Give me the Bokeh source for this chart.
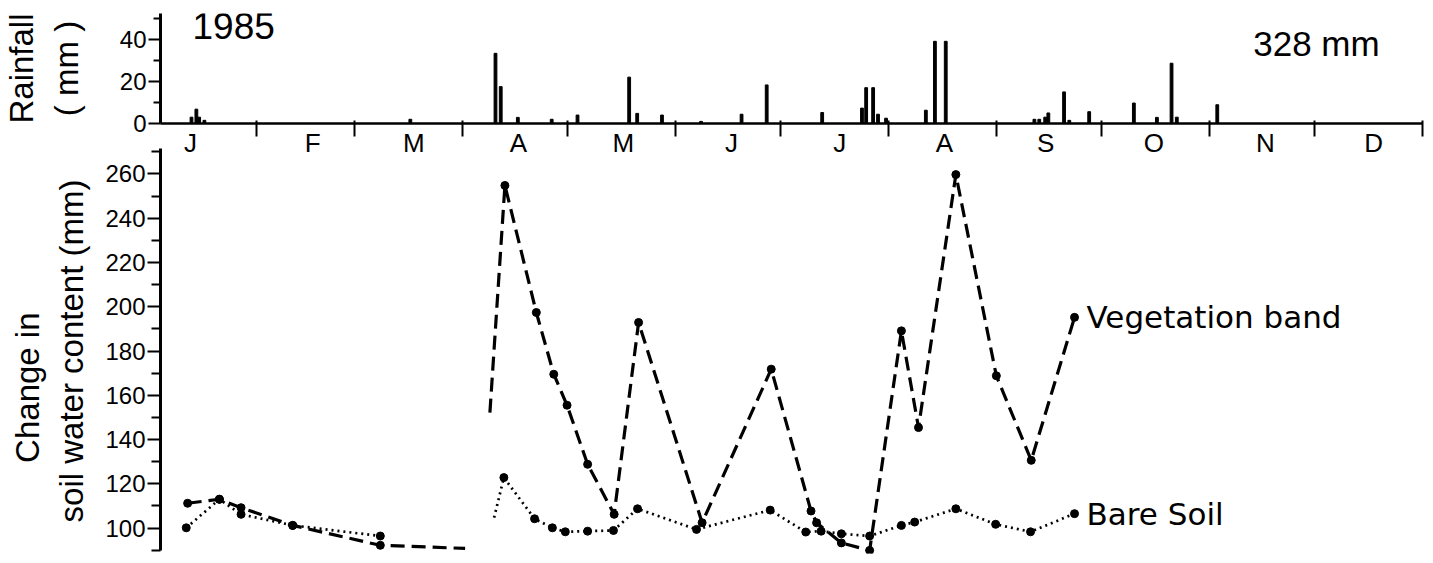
import numpy as np
from bokeh.plotting import figure
from bokeh.layouts import column
from bokeh.models import Range1d, FixedTicker, Label
from bokeh.core.properties import value
from bokeh.embed import file_html
from bokeh.resources import INLINE

# ---- data (x in day of year 1985) ----
month_names = ["J", "F", "M", "A", "M", "J", "J", "A", "S", "O", "N", "D"]
month_starts = [0, 31, 59, 90, 120, 151, 181, 212, 243, 273, 304, 334, 365]
month_label_days = [12, 47, 76, 106, 136, 167, 198, 228, 257, 288, 320, 351]

rain_days = [12.3, 13.7, 14.5, 16.0, 75.0, 99.4, 100.9, 105.8, 115.5, 122.9,
             137.7, 140.0, 147.1, 158.3, 169.9, 177.1, 193.0, 204.4, 205.6,
             207.6, 209.0, 211.3, 222.7, 225.3, 228.4, 253.8, 255.2, 256.9,
             257.8, 262.3, 263.8, 269.5, 282.3, 288.9, 293.1, 294.6, 306.2]
rain_mm = [3.0, 6.8, 3.0, 1.5, 2.0, 33.3, 17.5, 2.9, 2.0, 4.0,
           22.0, 4.8, 4.0, 1.0, 4.4, 18.3, 5.2, 7.3, 17.0,
           17.0, 4.4, 2.5, 6.3, 39.0, 39.0, 2.0, 2.0, 3.0,
           5.0, 15.0, 1.5, 5.6, 9.7, 2.9, 28.6, 3.0, 8.9]

veg_days = [11.2, 20.3, 26.5, 41.3, 66.4, 90.7, np.nan,
            97.8, 102.1, 111.1, 116.1, 119.9, 125.8, 133.4, 140.4, 158.6,
            178.4, 189.8, 191.4, 198.5, 206.6, 215.7, 220.6, 231.3, 242.9,
            252.9, 265.3]
veg_vals = [111.2, 113.0, 109.2, 101.2, 92.2, 90.8, np.nan,
            152.2, 254.8, 197.4, 169.5, 155.5, 128.8, 106.2, 192.9, 102.4,
            171.8, 107.7, 102.4, 93.3, 89.9, 189.1, 145.4, 259.7, 168.8,
            130.6, 195.2]
veg_marked = [1, 1, 1, 1, 1, 0, 0,
              0, 1, 1, 1, 1, 1, 1, 1, 1,
              1, 1, 1, 1, 1, 1, 1, 1, 1,
              1, 1]

bare_days = [10.8, 20.3, 26.5, 41.3, 66.4, np.nan,
             99.0, 101.8, 110.6, 115.7, 119.4, 125.8, 133.2, 140.1, 157.0,
             178.1, 188.3, 192.7, 198.5, 206.6, 215.7, 219.5, 231.3, 242.7,
             252.7, 265.3]
bare_vals = [100.1, 113.0, 106.2, 101.2, 96.4, np.nan,
             104.7, 122.8, 104.2, 100.1, 98.3, 98.6, 98.9, 108.7, 99.4,
             108.1, 98.2, 98.6, 97.4, 96.4, 101.2, 102.7, 108.7, 101.7,
             98.3, 106.5]
bare_marked = [1, 1, 1, 1, 1, 0,
               0, 1, 1, 1, 1, 1, 1, 1, 1,
               1, 1, 1, 1, 1, 1, 1, 1, 1,
               1, 1]

rain_ticks = [0, 20, 40]
rain_minor = [10, 30, 50]
soil_ticks = [100, 120, 140, 160, 180, 200, 220, 240, 260]
soil_minor = [90, 110, 130, 150, 170, 190, 210, 230, 250, 270]

FONT = "Liberation Sans"
W = 1430

x_range = Range1d(3.42, 365)

# ---- rainfall panel ----
top = figure(width=W, height=173, x_range=x_range, y_range=Range1d(0, 52.2),
             output_backend="svg", toolbar_location=None,
             min_border_left=154, min_border_right=8, min_border_top=13,
             min_border_bottom=50)
top.grid.visible = False
top.outline_line_color = None
top.vbar(x=rain_days, top=rain_mm, width=0.8, bottom=0, color="black")

xa = top.xaxis[0]
xa.ticker = FixedTicker(ticks=month_label_days, minor_ticks=month_starts)
xa.major_label_overrides = {d: n for d, n in zip(month_label_days, month_names)}
xa.major_tick_out = 0
xa.major_tick_in = 0
xa.minor_tick_out = 13
xa.minor_tick_in = 3
xa.minor_tick_line_width = 2
xa.minor_tick_line_color = "black"
xa.axis_line_width = 2.5
xa.axis_line_color = "black"
xa.major_label_standoff = -9
xa.major_label_text_font = FONT
xa.major_label_text_font_size = "26px"
xa.major_label_text_color = "black"

ya = top.yaxis[0]
ya.ticker = FixedTicker(ticks=rain_ticks, minor_ticks=rain_minor)
ya.axis_line_width = 3
ya.axis_line_color = "black"
ya.major_tick_out = 12
ya.major_tick_in = 0
ya.minor_tick_out = 7
ya.minor_tick_in = 0
ya.major_tick_line_width = 2
ya.minor_tick_line_width = 2
ya.major_label_standoff = 2
ya.major_label_text_font = FONT
ya.major_label_text_font_size = "24px"
ya.major_label_text_color = "black"
ya.axis_label = "Rainfall\n( mm )"
ya.axis_label_text_font = FONT
ya.axis_label_text_font_size = "33px"
ya.axis_label_text_font_style = "normal"
ya.axis_label_text_color = "black"
ya.axis_label_text_line_height = 1.2
ya.axis_label_standoff = 32

top.add_layout(Label(x=12.6, y=46.2, text="1985", text_font=FONT,
                     text_font_size="37px", text_baseline="middle",
                     text_color="black"))
top.add_layout(Label(x=316.5, y=38.1, text="328 mm", text_font=FONT,
                     text_font_size="35px", text_baseline="middle",
                     text_color="black"))

# ---- soil water panel ----
low = figure(width=W, height=407, x_range=x_range, y_range=Range1d(88.5, 271.5),
             output_backend="svg", toolbar_location=None, x_axis_location=None,
             min_border_left=154, min_border_right=8, min_border_top=0,
             min_border_bottom=2, background_fill_color=None,
             border_fill_color=None, margin=(-25, 0, 0, 0))
low.grid.visible = False
low.outline_line_color = None

low.line(veg_days, veg_vals, line_dash="14 7", line_width=3.2, color="black")
vx = [d for d, m in zip(veg_days, veg_marked) if m]
vy = [v for v, m in zip(veg_vals, veg_marked) if m]
low.scatter(vx, vy, size=8, color="black")

low.line(bare_days, bare_vals, line_dash="2 4", line_width=2.7, color="black")
bx = [d for d, m in zip(bare_days, bare_marked) if m]
by = [v for v, m in zip(bare_vals, bare_marked) if m]
low.scatter(bx, by, size=8, color="black")

low.text(x=[veg_days[-1]], y=[veg_vals[-1]], text=["Vegetation band"],
         x_offset=12, text_font=value("DejaVu Sans"), text_font_size=value("31px"),
         text_baseline="middle", text_color="black")
low.text(x=[bare_days[-1]], y=[bare_vals[-1]], text=["Bare Soil"],
         x_offset=12, text_font=value("DejaVu Sans"), text_font_size=value("31px"),
         text_baseline="middle", text_color="black")

la = low.yaxis[0]
la.ticker = FixedTicker(ticks=soil_ticks, minor_ticks=soil_minor)
la.bounds = (90, 271.5)
la.axis_line_width = 3
la.axis_line_color = "black"
la.major_tick_out = 13
la.major_tick_in = 0
la.minor_tick_out = 9
la.minor_tick_in = 0
la.major_tick_line_width = 2
la.minor_tick_line_width = 2
la.major_label_standoff = 2
la.major_label_text_font = FONT
la.major_label_text_font_size = "24px"
la.major_label_text_color = "black"
la.axis_label = "Change in" + "\u00a0" * 8 + "\nsoil water content (mm)"
la.axis_label_text_font = FONT
la.axis_label_text_font_size = "33px"
la.axis_label_text_font_style = "normal"
la.axis_label_text_color = "black"
la.axis_label_text_line_height = 1.2
la.axis_label_standoff = 12

layout = column(top, low, spacing=0)
open("out.html", "w").write(file_html(layout, INLINE))
